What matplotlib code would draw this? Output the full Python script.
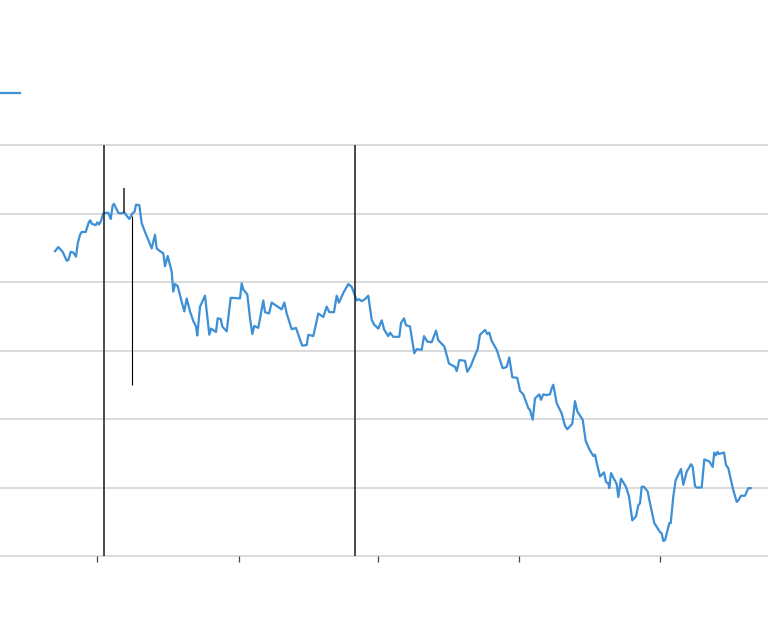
import numpy as np
import matplotlib
matplotlib.use("Agg")
import matplotlib.pyplot as plt
from matplotlib.lines import Line2D

# day index of each observation
days = [55, 58.3, 62.7, 66.7, 68.3, 70.7, 73.3, 76, 77.7, 80, 81.7, 85.7, 89, 90.3, 91.7,
        95.7, 97.3, 99, 100.7, 103.3, 105.7, 108.3, 110.7, 112.7, 114, 118.3, 121.7, 124,
        126, 129.3, 132.3, 134.7, 136, 139.3, 141.7, 145, 151.7, 155, 156.7, 160, 163.3,
        165, 167.7, 171.7, 173.3, 175, 177.7, 181.7, 184.3, 186.7, 190, 193.3, 196, 197.3,
        200, 205, 209.3, 211, 216, 217.7, 220.7, 222.3, 226.7, 230.7, 240, 241.7, 243.3,
        247.3, 250, 252.3, 254.3, 258.3, 263.3, 265, 269, 271.7, 277.7, 281.7, 284.3,
        286.7, 291.7, 296, 300, 302.3, 306.7, 308.3, 313.3, 318.3, 323.3, 326.7, 329.3,
        334, 336.7, 339, 343.3, 348.3, 351.7, 356.7, 359, 361.7, 365, 368.3, 371.7, 374,
        378.3, 381.7, 384.3, 388.3, 390, 393.3, 399.3, 401, 404, 406, 410, 414.3, 416.7,
        421.7, 424, 427.3, 431.7, 436, 438.3, 444.3, 449, 455, 456.7, 459.3, 465, 467.3,
        470.7, 475, 477.7, 480, 485, 487.3, 489.3, 491.7, 496.7, 502.7, 506.7, 509.3,
        512.3, 517.3, 520, 523.3, 528.3, 530, 532.7, 535, 539.3, 541, 543.3, 546, 550,
        551.7, 553.3, 556.7, 561.7, 565, 567.3, 572.3, 575, 577.3, 582.7, 585.7, 589.3,
        593.3, 595, 596.7, 600, 604, 606, 608.3, 609.3, 611, 616.7, 618.3, 621, 626, 629,
        632.3, 636, 638.3, 640, 641.7, 644, 647.7, 650, 654.3, 660, 661.7, 663.3, 665,
        669.3, 670.7, 673.3, 675.7, 681, 683.3, 686.7, 691, 692.7, 695, 696.7, 701.7,
        704.3, 709.3, 712.7, 714.3, 716, 717.7, 719, 724, 726, 728.3, 733.3, 736.7, 738.3,
        741, 745, 748.3, 750.7]

values = [44.5, 45.1, 44.4, 43.1, 43.2, 44.4, 44.3, 43.7, 45.6, 46.9, 47.3, 47.3, 48.8, 49.0,
          48.5, 48.3, 48.7, 48.4, 48.8, 50.0, 50.1, 50.1, 49.2, 51.2, 51.4, 50.1, 50.0, 50.2,
          49.8, 49.2, 50.0, 50.3, 51.3, 51.2, 48.6, 47.3, 44.9, 46.9, 44.9, 44.5, 44.2, 42.3,
          43.8, 41.5, 38.6, 39.7, 39.4, 37.1, 35.7, 37.6, 35.7, 34.3, 33.5, 32.2, 36.4, 38.0,
          32.3, 33.2, 32.7, 34.7, 34.6, 33.5, 32.8, 37.7, 37.6, 39.8, 38.9, 38.2, 34.7, 32.4,
          33.6, 33.3, 37.3, 35.6, 35.4, 37.0, 36.4, 36.0, 37.0, 35.4, 33.1, 33.3, 31.6, 30.7,
          30.8, 32.3, 32.1, 35.4, 34.9, 36.4, 35.6, 35.6, 38.0, 37.0, 38.4, 39.7, 39.3, 37.3,
          37.5, 37.2, 37.5, 38.0, 34.5, 33.8, 33.2, 34.4, 33.0, 32.1, 32.6, 32.0, 32.0, 34.0,
          34.7, 33.7, 33.5, 29.6, 30.2, 30.1, 32.1, 31.3, 31.2, 32.9, 31.5, 30.6, 28.1, 27.6,
          27.0, 28.6, 28.5, 26.9, 27.7, 29.3, 30.2, 32.3, 33.0, 32.4, 32.6, 31.4, 30.1, 27.4,
          27.6, 29.0, 26.1, 26.0, 24.1, 23.6, 21.6, 21.3, 19.9, 23.0, 23.6, 22.8, 23.6, 23.5,
          23.6, 24.5, 25.0, 22.3, 20.8, 19.0, 18.5, 19.3, 22.6, 21.1, 19.9, 16.8, 15.6, 14.6,
          14.8, 13.6, 11.6, 12.2, 10.8, 10.6, 9.9, 12.1, 10.5, 8.6, 11.3, 10.1, 8.7, 5.2, 5.8,
          7.4, 7.7, 10.1, 10.1, 9.4, 7.7, 4.8, 3.5, 3.3, 2.2, 2.3, 4.8, 4.8, 8.7, 11.1, 12.7,
          10.4, 12.3, 13.4, 13.0, 10.2, 10.0, 10.0, 14.1, 13.8, 13.0, 15.1, 14.7, 15.2, 14.9,
          15.1, 13.3, 12.8, 9.6, 7.9, 8.1, 8.8, 8.8, 9.9, 9.9]

# event markers
event_days = [103.5, 355]
range_days = [124, 131.5]
range_low = [50.1, 25.0]
range_high = [53.7, 49.6]

tick_days = [97, 239, 378, 518.5, 660]
grid_levels = [0, 10, 20, 30, 40, 50, 60]

fig = plt.figure(figsize=(7.68, 6.25), dpi=100)
ax = fig.add_axes([0, 1 - 556 / 625, 1, (556 - 145) / 625])

for g in grid_levels:
    ax.axhline(g, color='#d4d4d4', lw=1.2, zorder=0, clip_on=False)

ax.plot(days, values, color='#3d8fd6', lw=1.6, zorder=3)

for d in event_days:
    ax.axvline(d, color='#2b2b2b', lw=1.2, zorder=4)
ax.vlines(range_days[0], range_low[0], range_high[0], color='#333333', lw=1.2, zorder=4)
ax.vlines(range_days[1], range_low[1], range_high[1], color='black', lw=0.8, zorder=4)

ax.set_xlim(0, 768)
ax.set_ylim(0, 60)
ax.set_xticks(tick_days)
ax.set_xticklabels([])
ax.set_yticks([])
ax.tick_params(axis='x', length=4, width=0.9, color='#444444', direction='out')
for s in ['top', 'left', 'right', 'bottom']:
    ax.spines[s].set_visible(False)

# legend swatch, no label text
fig.add_artist(Line2D([0, 20 / 768], [1 - 93 / 625, 1 - 93 / 625],
                      color='#3d8fd6', lw=1.6))

fig.savefig('out.png', dpi=100)
